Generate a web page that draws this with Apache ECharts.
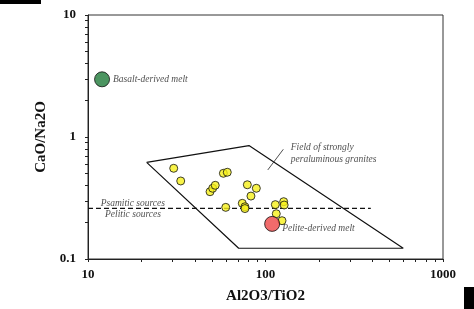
<!DOCTYPE html>
<html>
<head>
<meta charset="utf-8">
<script src="https://cdn.jsdelivr.net/npm/echarts@6/dist/echarts.min.js"></script>
<style>
html,body{margin:0;padding:0;background:#fff}
#chart{width:474px;height:309px}
</style>
</head>
<body>
<div id="chart"></div>
<script>
// samples: [Al2O3/TiO2, CaO/Na2O]
var samples = [
  [30.4,0.554],[33.3,0.436],[48.7,0.356],[50.4,0.380],[52.1,0.402],
  [57.9,0.504],[60.9,0.514],[59.7,0.265],[79.0,0.406],[88.8,0.380],
  [82.8,0.328],[74.0,0.286],[76.6,0.268],[76.6,0.259],[113.6,0.279],
  [126.6,0.295],[127.4,0.277],[115,0.235],[123.9,0.206]
];
var basaltMelt = [[12.0,2.97]];
var peliteMelt = [[109,0.194]];
// field of strongly peraluminous granites
var fieldOutline = [[21.4,0.62],[80.7,0.85],[597,0.1225],[70.6,0.1225],[21.4,0.62]];
// psamitic / pelitic boundary
var sourceLine = [[10,0.26],[392,0.26]];

var xTickLabels = [10,100,1000];
var xTicks = [10,20,30,40,50,60,70,80,90,100,200,300,400,500,600,700,800,900,1000];
var yTickLabels = [0.1,1,10];
var yTicks = [0.1,0.2,0.3,0.4,0.5,0.6,0.7,0.8,0.9,1,2,3,4,5,6,7,8,9,10];

var serif = 'Liberation Serif';

var myChart = echarts.init(document.getElementById('chart'));
var options = {
  animation: false,
  grid: {left:88, right:31, top:15, bottom:50, show:true, borderColor:'#333', borderWidth:1},
  xAxis: {
    type:'log', logBase:10, min:10, max:1000,
    name:'Al2O3/TiO2', nameLocation:'middle', nameGap:30,
    nameTextStyle:{fontFamily:serif, fontWeight:'bold', fontSize:15, color:'#111'},
    axisLine:{show:true, lineStyle:{color:'#222', width:1}},
    axisTick:{show:true, inside:false, length:3, customValues:xTicks, lineStyle:{color:'#222', width:1}},
    axisLabel:{customValues:xTickLabels, margin:9, fontFamily:serif, fontWeight:'bold', fontSize:13, color:'#111',
      formatter:function(v){return String(v);}},
    splitLine:{show:false}
  },
  yAxis: {
    type:'log', logBase:10, min:0.1, max:10,
    name:'CaO/Na2O', nameLocation:'middle', nameGap:28,
    nameTextStyle:{fontFamily:serif, fontWeight:'bold', fontSize:15, color:'#111'},
    axisLine:{show:true, lineStyle:{color:'#222', width:1}},
    axisTick:{show:true, inside:false, length:3, customValues:yTicks, lineStyle:{color:'#222', width:1}},
    axisLabel:{customValues:yTickLabels, margin:12, fontFamily:serif, fontWeight:'bold', fontSize:13, color:'#111',
      formatter:function(v){return String(v);}},
    splitLine:{show:false}
  },
  series: [
    {
      type:'line', data:fieldOutline, symbol:'none', z:1,
      lineStyle:{color:'#111', width:1.2},
      markLine:{
        silent:true, symbol:['none','arrow'], symbolSize:[0,6],
        lineStyle:{color:'#222', width:0.8, type:'solid'}, label:{show:false},
        data:[[{coord:[126,0.793]},{coord:[103,0.537]}]]
      }
    },
    {
      type:'line', data:sourceLine, symbol:'none', z:1,
      lineStyle:{color:'#111', width:1.1, type:[5,3]}
    },
    {
      type:'scatter', data:samples, symbolSize:8, z:3,
      itemStyle:{color:'#f6f01a', borderColor:'#111', borderWidth:1}
    },
    {
      type:'scatter', data:basaltMelt, symbolSize:15, z:3,
      itemStyle:{color:'#1f7a3a', borderColor:'#111', borderWidth:1},
      label:{show:true, position:'right', distance:3, formatter:'Basalt-derived melt', color:'#222', fontFamily:serif, fontStyle:'italic', fontSize:9.5}
    },
    {
      type:'scatter', data:peliteMelt, symbolSize:15, z:4,
      itemStyle:{color:'#ee4646', borderColor:'#111', borderWidth:1},
      label:{show:true, position:'right', distance:2, offset:[0,5], formatter:'Pelite-derived melt', color:'#222', fontFamily:serif, fontStyle:'italic', fontSize:9.5}
    },
    {
      type:'scatter', symbolSize:0, silent:true, z:5,
      label:{show:true, position:'right', distance:0, formatter:function(p){return p.data[2];},
        color:'#222', fontFamily:serif, fontStyle:'italic', fontSize:9.5},
      data:[
        [11.79,0.286,'Psamitic sources'],
        [12.47,0.2325,'Pelitic sources'],
        [138.7,0.823,'Field of strongly'],
        [138.7,0.660,'peraluminous granites']
      ]
    }
  ],
  graphic: [
    {type:'rect', left:0, top:0, shape:{width:41, height:4}, style:{fill:'#000'}},
    {type:'rect', left:464, top:287, shape:{width:10, height:22}, style:{fill:'#000'}}
  ]
};
myChart.setOption(options);
</script>
</body>
</html>
